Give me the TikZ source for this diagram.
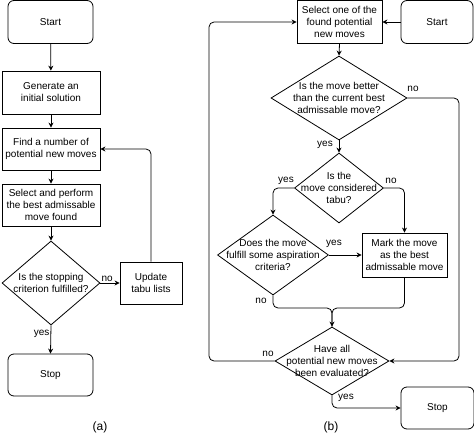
\documentclass[tikz,border=0pt]{standalone}
\usepackage{fontspec}
\setmainfont{Liberation Sans}
\usetikzlibrary{shapes.geometric,arrows.meta}
\begin{document}
\begin{tikzpicture}[x=1pt,y=-1pt,
  every node/.style={font=\fontsize{10}{12}\selectfont},
  line width=0.8pt,
  box/.style={draw, rectangle, align=center, inner sep=0pt},
  term/.style={box, rounded corners=6pt},
  dec/.style={draw, diamond, inner sep=0pt},
  arr/.style={-{Stealth[length=5pt,width=5pt]}},
  lbl/.style={inner sep=1pt},
  subcap/.style={font=\fontsize{12}{14}\selectfont}
]
\useasboundingbox (0,0) rectangle (474,434);
% ---------- panel (a)
\node[term, minimum width=85pt, minimum height=43pt] (sa) at (50.5,22) {Start};
\node[box, minimum width=98pt, minimum height=43pt] (gen) at (51,92.5) {Generate an\\initial solution};
\node[box, minimum width=98pt, minimum height=42pt] (find) at (51,149) {Find a number of\\potential new moves};
\node[box, minimum width=98pt, minimum height=42pt] (sel) at (51,205) {Select and perform\\the best admissable\\move found};
\node[dec, minimum width=98pt, minimum height=84pt,
  label={[align=center]center:Is the stopping\\criterion fulfilled?}] (dq) at (51,283) {};
\node[box, minimum width=62pt, minimum height=42pt] (upd) at (151,283) {Update\\tabu lists};
\node[term, minimum width=85pt, minimum height=42pt] (stopa) at (50.5,375) {Stop};
\node[subcap] (la) at (100,427) {(a)};

\draw[arr] (sa) -- (gen);
\draw[arr] (gen) -- (find);
\draw[arr] (find) -- (sel);
\draw[arr] (sel) -- (dq);
\draw[arr] (dq.east) -- node[lbl, above, pos=0.35] {no} (upd.west);
\draw[arr] (dq.south) -- node[lbl, left, pos=0.3] {yes} (stopa.north);
\draw[arr, rounded corners=5pt] (upd.north) |- (find.east);

% ---------- panel (b)
\node[box, minimum width=85pt, minimum height=43pt] (selb) at (339.5,22) {Select one of the\\found potential\\new moves};
\node[term, minimum width=72pt, minimum height=43pt] (startb) at (437,22) {Start};
\node[dec, minimum width=136pt, minimum height=84pt,
  label={[align=center]center:Is the move better\\than the current best\\admissable move?}] (d1) at (339,98) {};
\node[dec, minimum width=89pt, minimum height=70pt,
  label={[align=center]center:Is the\\move considered\\tabu?}] (d2) at (339,188) {};
\node[dec, minimum width=111pt, minimum height=80pt,
  label={[align=center]center:Does the move\\fulfill some aspiration\\criteria?}] (d3) at (273,255) {};
\node[box, minimum width=85pt, minimum height=44pt] (mark) at (404.5,255) {Mark the move\\as the best\\admissable move};
\node[dec, minimum width=114pt, minimum height=68pt,
  label={[align=center]center:Have all\\potential new moves\\been evaluated?}] (d4) at (332,361) {};
\node[term, minimum width=73pt, minimum height=42pt] (stopb) at (437.5,408) {Stop};
\node[subcap] (lb) at (331,427) {(b)};

\coordinate (m) at (332,308);
\coordinate (r1) at (459,98);
\coordinate (l4) at (209,361);

\draw[arr] (startb.west) -- (selb.east);
\draw[arr] (selb.south) -- (d1.north);
\draw[arr] (d1.south) -- (d2.north);
\node[lbl] (y1) at (325,145) {yes};
\draw[arr, rounded corners=5pt] (d1.east) -- (r1) |- (d4.east);
\node[lbl] (n1) at (413,89) {no};
\draw[arr, rounded corners=5pt] (d2.west) -| (d3.north);
\node[lbl] (y2) at (286,181) {yes};
\draw[arr, rounded corners=5pt] (d2.east) -| (mark.north);
\node[lbl] (n2) at (391,181) {no};
\draw[arr] (d3.east) -- (mark.west);
\node[lbl] (y3) at (334,244) {yes};
\draw[rounded corners=5pt] (mark.south) |- (m) -- (d4.north);
\draw[arr, rounded corners=5pt] (d3.south) |- (m) -- (d4.north);
\node[lbl] (n3) at (261,301) {no};
\draw[arr, rounded corners=5pt] (d4.west) -- (l4) |- (selb.west);
\node[lbl] (n4) at (268,354) {no};
\draw[arr, rounded corners=5pt] (d4.south) |- (stopb.west);
\node[lbl] (y4) at (346,398) {yes};
\end{tikzpicture}
\end{document}
